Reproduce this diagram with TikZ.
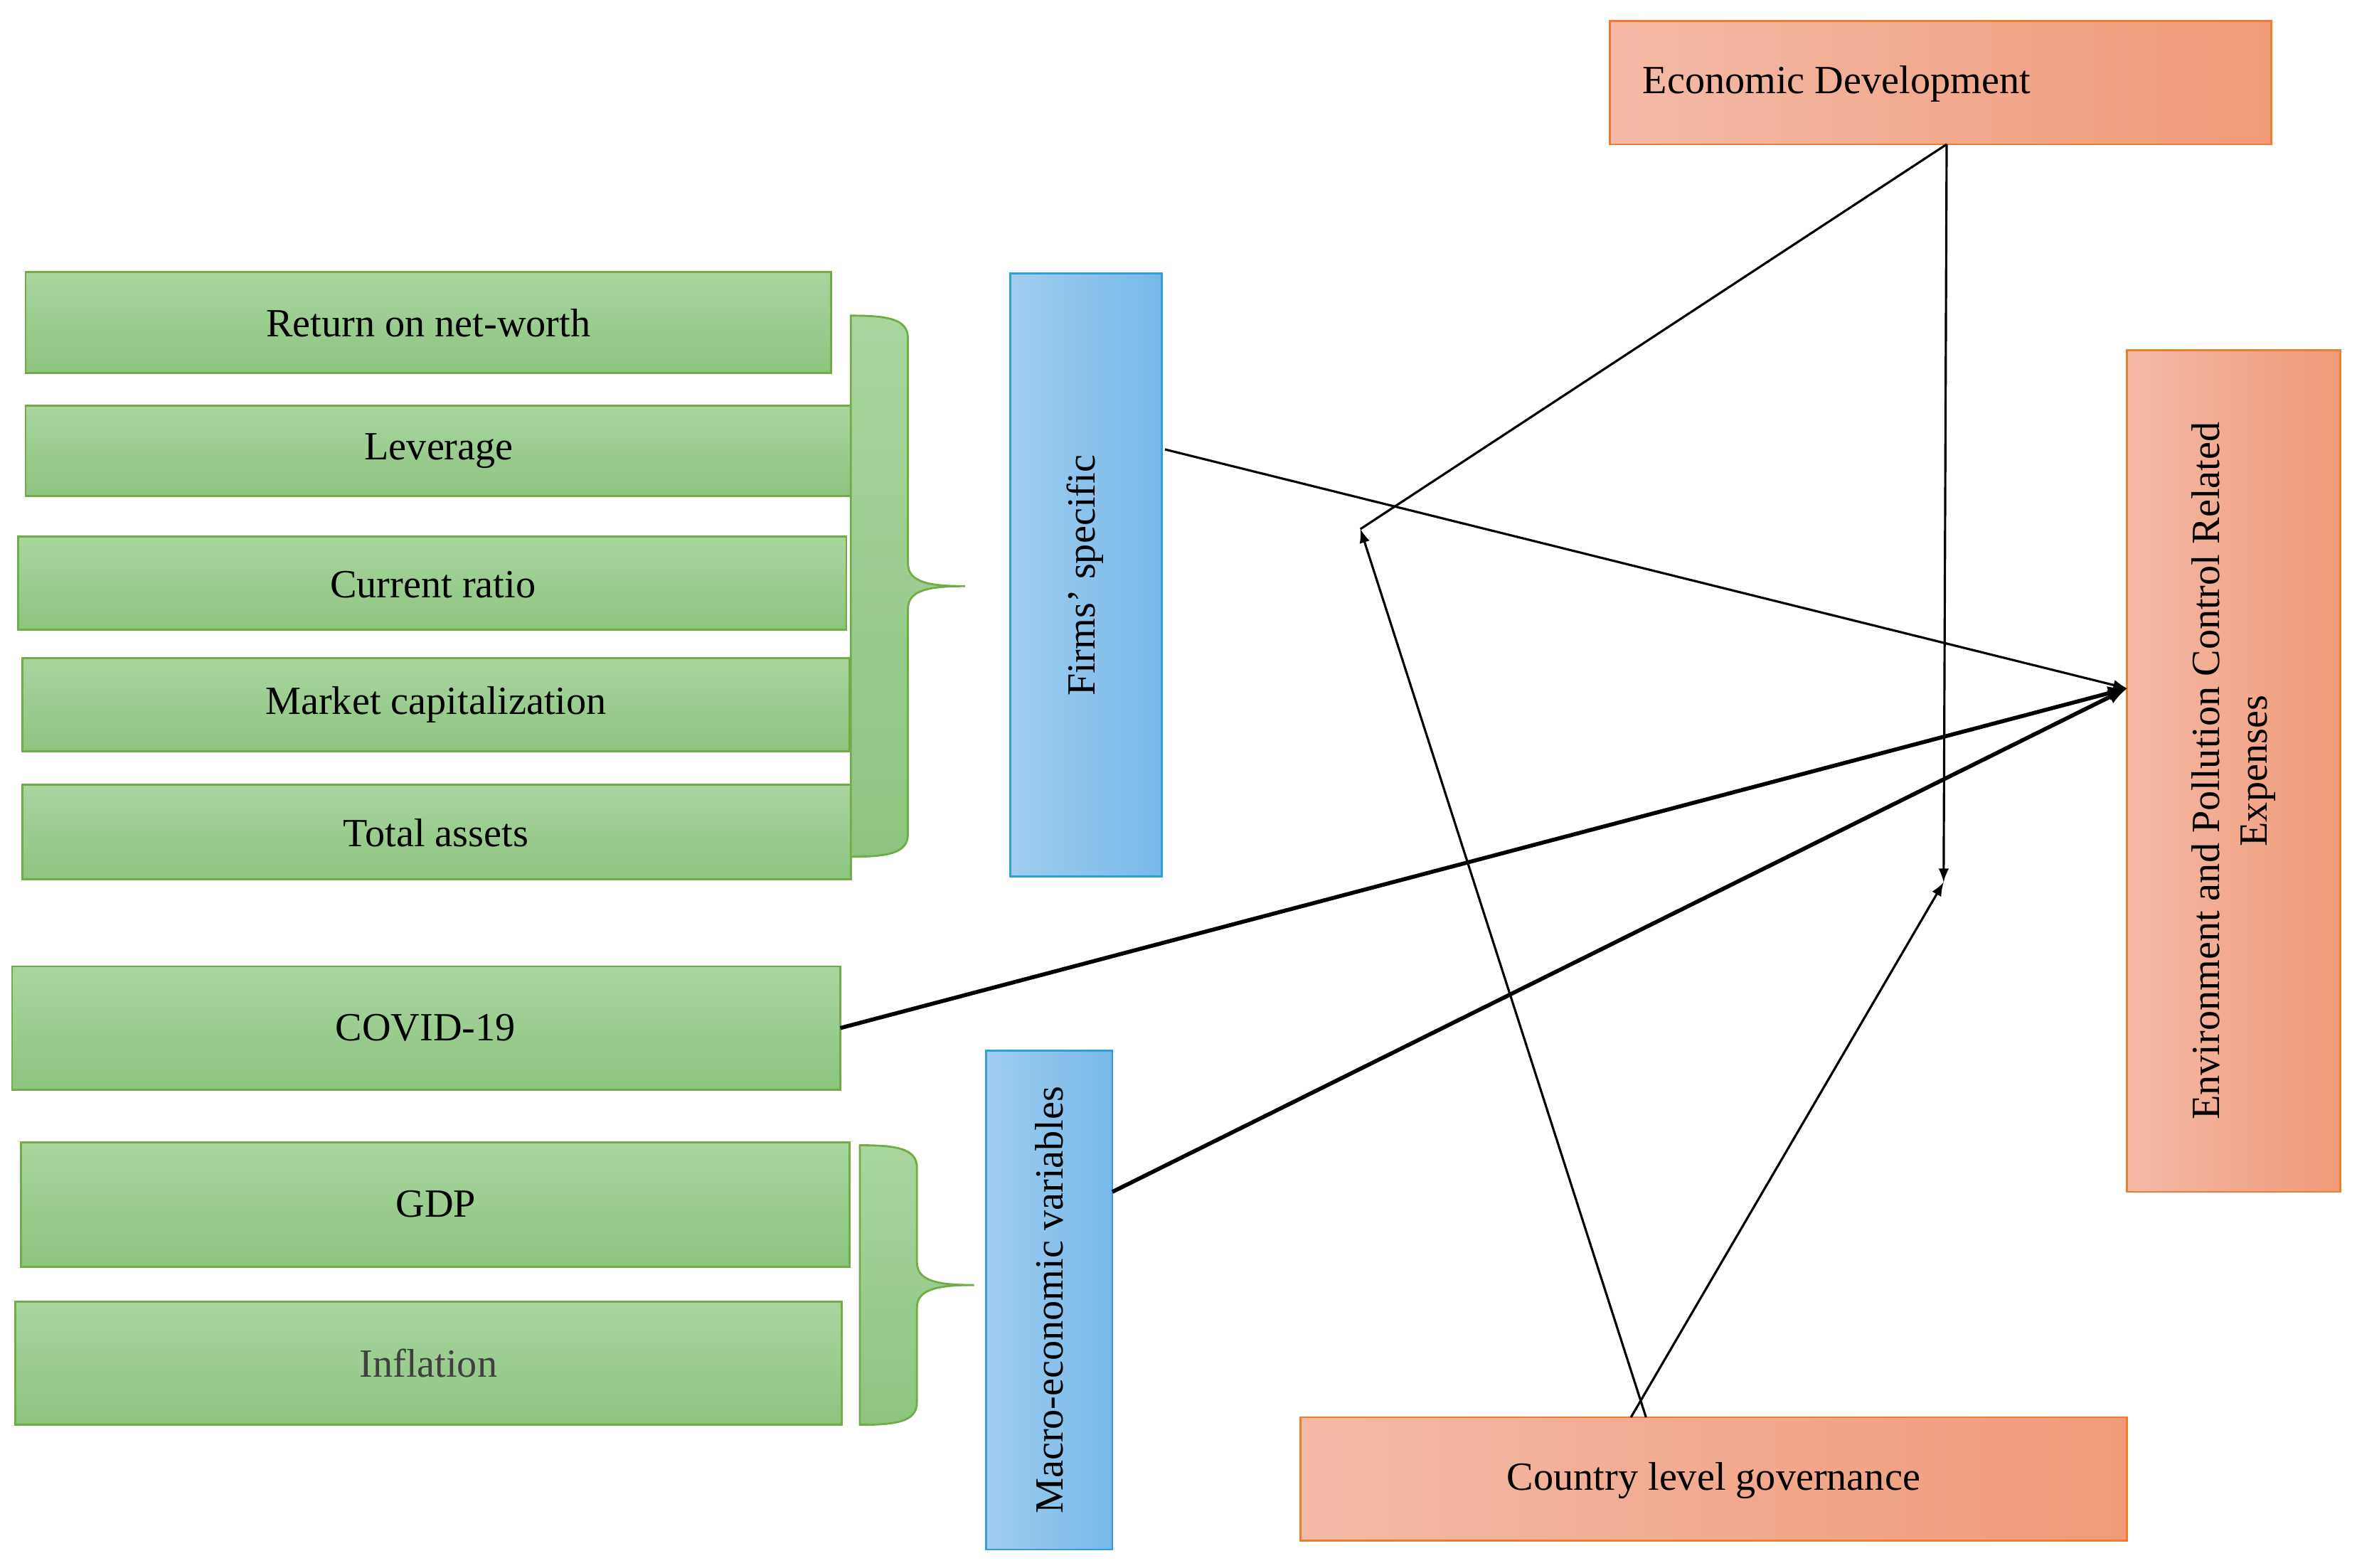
\documentclass[tikz,border=0pt]{standalone}
\usepackage{fontspec}
\setmainfont{Liberation Serif}
\begin{document}
\begin{tikzpicture}[x=0.02113cm,y=-0.02113cm,
 gbox/.style={draw=green!55!black!70!green, line width=0.8pt, top color=green!25!white!90!black, bottom color=green!45!white!85!black, inner sep=0pt},
 bbox/.style={draw={rgb,255:red,46;green,159;blue,216}, line width=0.8pt, left color={rgb,255:red,160;green,206;blue,240}, right color={rgb,255:red,118;green,184;blue,234}, inner sep=0pt},
 obox/.style={draw={rgb,255:red,237;green,125;blue,49}, line width=0.8pt, left color={rgb,255:red,244;green,186;blue,166}, right color={rgb,255:red,240;green,154;blue,120}, inner sep=0pt},
 txt/.style={font=\fontsize{16}{19}\selectfont},
 arr/.style={-latex, line width=0.9pt},
 tarr/.style={-latex, line width=1.6pt}]
\useasboundingbox (0,0) rectangle (1568,1043);
\colorlet{gfill}{green}
\definecolor{gb}{RGB}{112,173,71}
\tikzset{gbox/.append style={draw=gb, top color={rgb,255:red,168;green,214;blue,158}, bottom color={rgb,255:red,140;green,196;blue,127}}}
% green boxes
\path[gbox] (17,181) rectangle (553,248); \node[txt] (ron) at (285,215) {Return on net-worth};
\path[gbox] (17,270) rectangle (566,330); \node[txt] (lev) at (292,300) {Leverage};
\path[gbox] (12,357) rectangle (563,419); \node[txt] (cr) at (288,389) {Current ratio};
\path[gbox] (15,438) rectangle (565,500); \node[txt] (mc) at (290,469) {Market capitalization};
\path[gbox] (15,522) rectangle (566,585); \node[txt] (ta) at (290,554) {Total assets};
\path[gbox] (8,643) rectangle (559,725); \node[txt] (cov) at (283,684) {COVID-19};
\coordinate (covR) at (559,684);
\path[gbox] (14,760) rectangle (565,843); \node[txt] (gdp) at (290,801) {GDP};
\path[gbox] (10,866) rectangle (560,948); \node[txt,text=black!75] (inf) at (285,907) {Inflation};
% braces
\path[gbox] (566,210) .. controls (590,210) and (604,212) .. (604,225) -- (604,375) .. controls (604,388) and (620,390) .. (642,390)
 .. controls (620,390) and (604,392) .. (604,405) -- (604,555) .. controls (604,568) and (590,570) .. (566,570) -- cycle;
\path[gbox] (572,762) .. controls (596,762) and (610,764) .. (610,777) -- (610,840) .. controls (610,853) and (626,855) .. (648,855)
 .. controls (626,855) and (610,857) .. (610,870) -- (610,933) .. controls (610,946) and (596,948) .. (572,948) -- cycle;
% blue boxes
\path[bbox] (672,182) rectangle (773,583); \node[txt,rotate=90] (fs) at (722,383) {Firms’ specific};
\coordinate (fsR) at (775,299);
\path[bbox] (656,699) rectangle (740,1031); \node[txt,rotate=90] (mv) at (698,865) {Macro-economic variables};
\coordinate (mvR) at (740,793);
% orange boxes
\path[obox] (1071,14) rectangle (1511,96); \node[txt,anchor=west] (ed) at (1087,56) {Economic Development};
\coordinate (edB) at (1295,96);
\path[obox] (1415,233) rectangle (1557,793);
\node[txt,rotate=90,align=center] (env) at (1486,513) {Environment and Pollution Control Related\\Expenses};
\coordinate (envL) at (1415,458);
\path[obox] (865,943) rectangle (1415,1025); \node[txt] (clg) at (1140,985) {Country level  governance};
\coordinate (m1) at (905,352);
\coordinate (m2) at (1293,587);
% connectors
\draw[arr] (fsR) -- (envL);
\draw[tarr] (covR) -- (envL);
\draw[tarr] (mvR) -- (envL);
\draw[line width=0.9pt] (edB) -- (m1);
\draw[arr] (edB) -- (m2);
\draw[arr] (1095,943) -- (m1);
\draw[arr] (1085,943) -- (m2);
\end{tikzpicture}
\end{document}
